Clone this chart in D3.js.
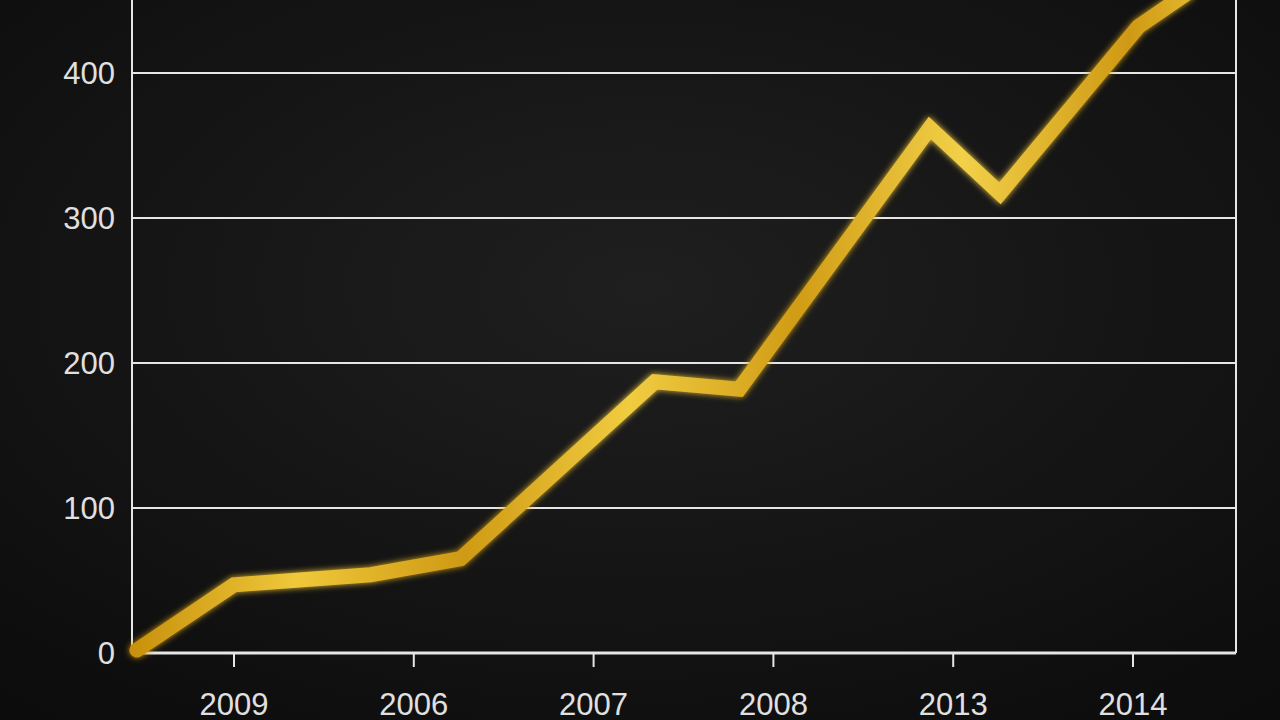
<!DOCTYPE html>
<html><head><meta charset="utf-8">
<script src="https://cdn.jsdelivr.net/npm/d3@7"></script>
<style>html,body{margin:0;background:#111;}svg{display:block;}</style>
</head><body><svg id="chart"></svg>
<script>
// Category labels along the bottom axis (as printed, not sorted)
const categories = ["2009", "2006", "2007", "2008", "2013", "2014"];
// Line points: position measured in category slots, value on the y axis
const linePos = [-0.54, 0, 0.76, 1.26, 2.34, 2.81, 3.87, 4.26, 5.03, 5.3];
const lineVal = [2, 47, 54, 65, 187, 182, 362, 317, 432, 455];
const yTicks = [0, 100, 200, 300, 400];

const W = 1280, H = 720;
const svg = d3.select("#chart").attr("width", W).attr("height", H);

const defs = svg.append("defs");
const bg = defs.append("radialGradient").attr("id", "bg").attr("cx", "50%").attr("cy", "40%").attr("r", "75%");
bg.append("stop").attr("offset", "0%").attr("stop-color", "#1f1f1f");
bg.append("stop").attr("offset", "100%").attr("stop-color", "#0c0c0c");
svg.append("rect").attr("width", W).attr("height", H).attr("fill", "url(#bg)");

const gold = defs.append("linearGradient").attr("id", "gold")
    .attr("gradientUnits", "userSpaceOnUse").attr("x1", 130).attr("y1", 0).attr("x2", 1240).attr("y2", 0);
[["0%", "#c8900c"], ["15%", "#efc83a"], ["30%", "#cf9a14"], ["45%", "#f0cc40"], ["60%", "#d19c16"], ["75%", "#f2d048"], ["90%", "#cf9914"], ["100%", "#f0cc40"]]
    .forEach(s => gold.append("stop").attr("offset", s[0]).attr("stop-color", s[1]));
const glow = defs.append("filter").attr("id", "glow").attr("x", "-10%").attr("y", "-10%").attr("width", "120%").attr("height", "120%");
glow.append("feGaussianBlur").attr("stdDeviation", 3).attr("result", "b");
const m = glow.append("feMerge");
m.append("feMergeNode").attr("in", "b");
m.append("feMergeNode").attr("in", "SourceGraphic");

const left = 132, right = 1236, bottom = 653;
const x = d3.scaleLinear().domain([0, 5]).range([234, 1133]);
const y = d3.scaleLinear().domain([0, 400]).range([bottom, 73]);

// gridlines
svg.append("g").selectAll("line").data(yTicks.filter(d => d > 0)).join("line")
    .attr("x1", left).attr("x2", right).attr("y1", d => y(d)).attr("y2", d => y(d))
    .attr("stroke", "#e6e6e6").attr("stroke-width", 2);

// frame
svg.append("line").attr("x1", left).attr("x2", left).attr("y1", 0).attr("y2", bottom).attr("stroke", "#e6e6e6").attr("stroke-width", 2);
svg.append("line").attr("x1", right).attr("x2", right).attr("y1", 0).attr("y2", bottom).attr("stroke", "#e6e6e6").attr("stroke-width", 2);
svg.append("line").attr("x1", left).attr("x2", right).attr("y1", bottom).attr("y2", bottom).attr("stroke", "#e6e6e6").attr("stroke-width", 3);

// y labels
svg.append("g").selectAll("text").data(yTicks).join("text")
    .attr("x", 115).attr("y", d => y(d)).attr("dy", "0.35em").attr("text-anchor", "end")
    .attr("font-family", "'Liberation Sans', Arial, sans-serif").attr("font-size", 31).attr("fill", "#e0e0e0")
    .text(d => d);

// x ticks and labels
const xg = svg.append("g").selectAll("g").data(categories).join("g")
    .attr("transform", (d, i) => `translate(${x(i)},${bottom})`);
xg.append("line").attr("y1", 0).attr("y2", 14).attr("stroke", "#e6e6e6").attr("stroke-width", 2);
xg.append("text").attr("y", 62).attr("text-anchor", "middle")
    .attr("font-family", "'Liberation Sans', Arial, sans-serif").attr("font-size", 31).attr("fill", "#e0e0e0")
    .text(d => d);

// gold line
const pts = linePos.map((p, i) => [x(p), y(lineVal[i])]);
svg.append("path").datum(pts).attr("d", d3.line())
    .attr("fill", "none").attr("stroke", "url(#gold)").attr("stroke-width", 15)
    .attr("stroke-linejoin", "miter").attr("stroke-linecap", "round").attr("filter", "url(#glow)");
</script></body></html>
